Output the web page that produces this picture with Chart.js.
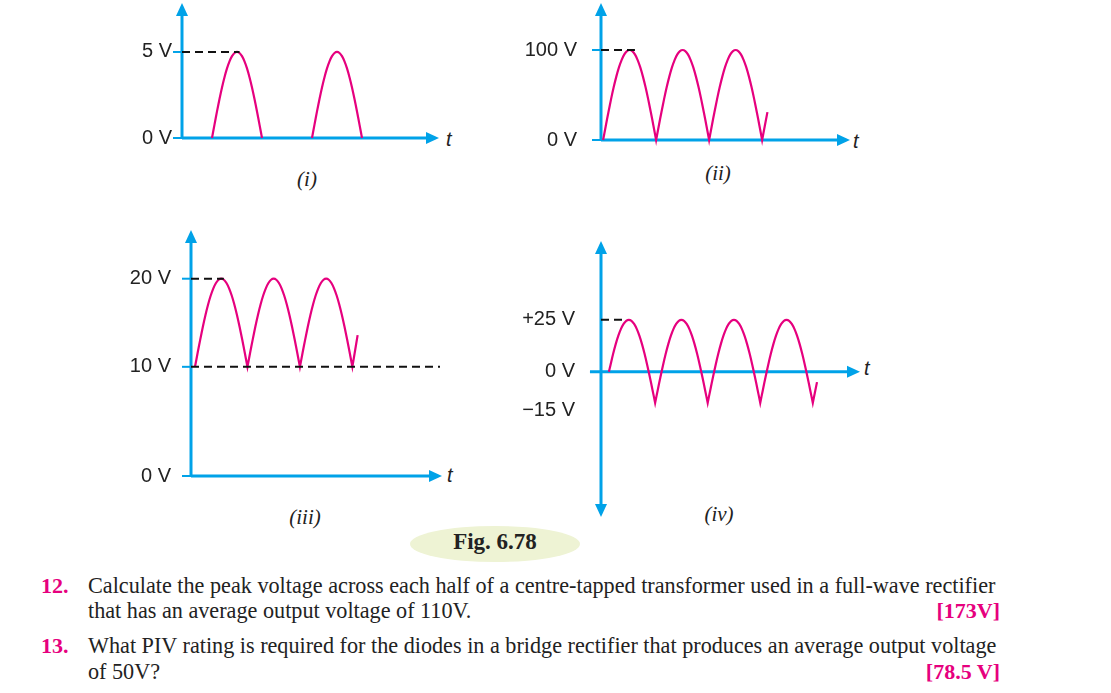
<!DOCTYPE html>
<html><head><meta charset="utf-8">
<script src="https://cdn.jsdelivr.net/npm/chart.js@4"></script>
<style>
body{margin:0;width:1111px;height:693px;background:#fff;position:relative;overflow:hidden;font-family:"Liberation Serif","Times New Roman",serif}
canvas{position:absolute}
.t{position:absolute;font-family:"Liberation Sans",Arial,sans-serif;font-style:italic;font-size:20px;color:#222}
.cap{position:absolute;font-style:italic;font-size:21px;color:#222;transform:translateX(-50%)}
.q{position:absolute;font-size:22.2px;color:#222;white-space:nowrap}
.n{position:absolute;font-size:22px;color:#e6007e;font-weight:bold}
.a{position:absolute;font-size:22px;color:#e6007e;font-weight:bold;right:111px}
</style></head><body>
<div class="t" style="left:446px;top:128px">t</div>
<div class="t" style="left:853px;top:130px">t</div>
<div class="t" style="left:447px;top:464px">t</div>
<div class="t" style="left:864px;top:357px">t</div>
<div class="cap" style="left:307px;top:167px">(i)</div>
<div class="cap" style="left:718px;top:161px">(ii)</div>
<div class="cap" style="left:305px;top:505px">(iii)</div>
<div class="cap" style="left:719px;top:502px">(iv)</div>
<div style="position:absolute;left:410px;top:526px;width:170px;height:36px;border-radius:50%;background:#eef3d4"></div>
<div style="position:absolute;left:410px;top:529px;width:170px;text-align:center;font-weight:bold;font-size:23px;color:#222">Fig. 6.78</div>
<div class="n" style="left:41px;top:573px">12.</div>
<div class="q" style="left:88px;top:573px">Calculate the peak voltage across each half of a centre-tapped transformer used in a full-wave rectifier</div>
<div class="q" style="left:88px;top:598px">that has an average output voltage of 110V.</div>
<div class="a" style="top:598px">[173V]</div>
<div class="n" style="left:41px;top:633px">13.</div>
<div class="q" style="left:88px;top:633px">What PIV rating is required for the diodes in a bridge rectifier that produces an average output voltage</div>
<div class="q" style="left:88px;top:659px">of 50V?</div>
<div class="a" style="top:659px">[78.5 V]</div>
<canvas id="c1" width="385" height="153" style="left:82px;top:0px"></canvas>
<canvas id="c2" width="377" height="155" style="left:501px;top:0px"></canvas>
<canvas id="c3" width="379" height="264" style="left:91px;top:227px"></canvas>
<canvas id="c4" width="387" height="287" style="left:501px;top:238px"></canvas>
<script>
// arch shape (fraction of peak) sampled across one half-cycle
const archProfile=[0,0.156,0.309,0.454,0.588,0.707,0.809,0.891,0.951,0.988,1,0.988,0.951,0.891,0.809,0.707,0.588,0.454,0.309,0.156,0];
// panel (i)
const p1Starts=[0,2], p1Base=0, p1Amp=5, p1Ticks=[0,5], p1Labels=["0 V","5 V"];
// panel (ii)
const p2Starts=[0,1,2], p2Base=0, p2Amp=100, p2Tail=[[3,0],[3.1,31]], p2Ticks=[0,100], p2Labels=["0 V","100 V"];
// panel (iii)
const p3Starts=[0,1,2], p3Base=10, p3Amp=10, p3Tail=[[3,10],[3.1,13.6]], p3Ticks=[-2.39,10,20], p3Labels=["0 V","10 V","20 V"];
// panel (iv)
const p4Starts=[0,1,2,3], p4Base=-15, p4Amp=40, p4FirstStart=[0.12,0], p4Tail=[[4,-15],[4.08,-5]], p4Ticks=[-18.5,0,25], p4Labels=["\u221215 V","0 V","+25 V"];

const AX='#00a2e8', WV='#e6007e';
function arches(starts,base,amp,from){
  const pts=[];
  starts.forEach(s=>{archProfile.forEach((p,i)=>{const x=s+i/(archProfile.length-1); if(from===undefined||x>=from) pts.push({x,y:base+amp*p});});});
  return pts;
}
function dash(x0,x1,y){return {data:[{x:x0,y},{x:x1,y}],borderColor:'#111',borderWidth:2,borderDash:[8,5],pointRadius:0,tension:0};}
function arrow(ctx,x,y,dir){
  ctx.beginPath();const L=11,W=6;
  if(dir==='up'){ctx.moveTo(x,y-2);ctx.lineTo(x-W,y+L);ctx.lineTo(x+W,y+L);}
  if(dir==='down'){ctx.moveTo(x,y+2);ctx.lineTo(x-W,y-L);ctx.lineTo(x+W,y-L);}
  if(dir==='right'){ctx.moveTo(x+2,y);ctx.lineTo(x-L,y-W);ctx.lineTo(x-L,y+W);}
  ctx.closePath();ctx.fill();
}
function panel(id,o){
  const axes={id:'axes',beforeDatasetsDraw(ch){
    const c=ch.ctx,xs=ch.scales.x,ys=ch.scales.y;
    const ax=xs.getPixelForValue(o.xmin), ay=ys.getPixelForValue(o.xAxisY);
    const top=ys.getPixelForValue(o.ymax), bot=ys.getPixelForValue(o.ymin);
    c.save();c.strokeStyle=AX;c.fillStyle=AX;c.lineWidth=3;
    c.beginPath();c.moveTo(ax,o.bothArrows?bot-6:bot);c.lineTo(ax,top+6);c.stroke();
    arrow(c,ax,top,'up'); if(o.bothArrows) arrow(c,ax,bot,'down');
    const xl=o.xStart!==undefined?xs.getPixelForValue(o.xStart):ax, xr=xs.getPixelForValue(o.xmax);
    c.beginPath();c.moveTo(xl,ay);c.lineTo(xr-6,ay);c.stroke();arrow(c,xr,ay,'right');
    c.lineWidth=2;
    c.font='20px "Liberation Sans", Arial, sans-serif';c.textAlign='right';c.textBaseline='middle';
    o.ticks.forEach((t,i)=>{const py=ys.getPixelForValue(t);
      if(o.tickMarks){c.strokeStyle=AX;c.beginPath();c.moveTo(ax-9,py);c.lineTo(ax,py);c.stroke();}
      c.fillStyle='#222';c.fillText(o.labels[i],ax-o.tp,py);});
    c.restore();}};
  new Chart(document.getElementById(id),{type:'line',
    data:{datasets:o.datasets},
    options:{responsive:false,animation:false,devicePixelRatio:1,clip:false,
      layout:{padding:{left:100,top:5,right:30,bottom:o.pb}},
      plugins:{legend:{display:false},tooltip:{enabled:false}},
      elements:{line:{tension:0.3,borderWidth:2.2,borderColor:WV},point:{radius:0}},
      scales:{
        x:{type:'linear',display:false,min:o.xmin,max:o.xmax},
        y:{type:'linear',display:false,min:o.ymin,max:o.ymax}}},
    plugins:[axes]});
}
const tail=a=>a.map(p=>({x:p[0],y:p[1]}));
const ds1=p1Starts.map(s=>({data:arches([s],p1Base,p1Amp)}));
panel('c1',{xmin:-0.6,xmax:4.5,ymin:0,ymax:7.73,xAxisY:0,ticks:p1Ticks,labels:p1Labels,tp:10,pb:15,tickMarks:true,
  datasets:[dash(-0.6,0.55,5),...ds1]});
panel('c2',{xmin:-0.04,xmax:4.62,ymin:0,ymax:150,xAxisY:0,ticks:p2Ticks,labels:p2Labels,tp:24,pb:15,tickMarks:true,
  datasets:[dash(-0.04,0.6,100),{data:arches(p2Starts,p2Base,p2Amp).concat(tail(p2Tail))}]});
panel('c3',{xmin:-0.076,xmax:4.67,ymin:-2.39,ymax:25.3,xAxisY:-2.39,ticks:p3Ticks,labels:p3Labels,tp:20,pb:15,tickMarks:true,
  datasets:[dash(-0.076,4.67,10),dash(-0.076,0.55,20),{data:arches(p3Starts,p3Base,p3Amp).concat(tail(p3Tail))}]});
panel('c4',{xmin:-0.03,xmax:4.86,xStart:-0.24,ymin:-69,ymax:62,xAxisY:0,bothArrows:true,ticks:p4Ticks,labels:p4Labels,tp:26,pb:10,tickMarks:false,
  datasets:[dash(-0.03,0.45,25),{data:[{x:p4FirstStart[0],y:p4FirstStart[1]}].concat(arches(p4Starts,p4Base,p4Amp,0.13)).concat(tail(p4Tail))}]});
</script></body></html>
